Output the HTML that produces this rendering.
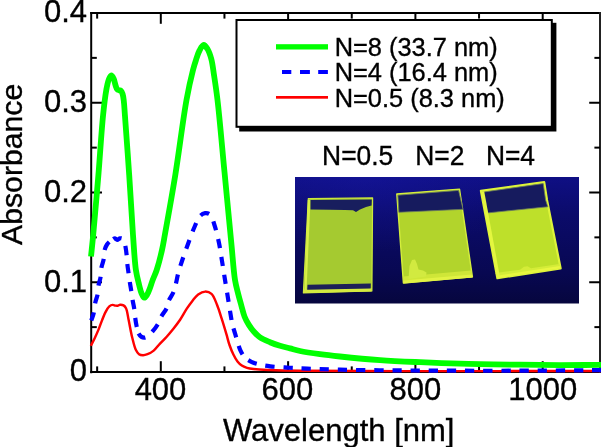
<!DOCTYPE html>
<html><head><meta charset="utf-8"><style>
html,body{margin:0;padding:0;background:#fff;width:601px;height:447px;overflow:hidden}
svg{display:block}
text{font-family:'Liberation Sans', Arial, Helvetica, sans-serif;fill:#000;stroke:#000;stroke-width:0.35px}
</style></head><body>
<svg width="601" height="447" viewBox="0 0 601 447">
<defs>
<clipPath id="plot"><rect x="84" y="12" width="526" height="361"/></clipPath>
<linearGradient id="bg" x1="0" y1="0" x2="0" y2="1">
<stop offset="0" stop-color="#0f0f84"/><stop offset="0.3" stop-color="#0b0b6a"/><stop offset="0.75" stop-color="#080852"/><stop offset="1" stop-color="#06063e"/>
</linearGradient>
<radialGradient id="bgr" cx="0.25" cy="0" r="0.6">
<stop offset="0" stop-color="#1a1ab0" stop-opacity="0.35"/><stop offset="1" stop-color="#1a1ab0" stop-opacity="0"/>
</radialGradient>
</defs>
<rect width="601" height="447" fill="#fff"/>
<!-- frame -->
<g stroke="#000" stroke-width="2" fill="none">
<rect x="91.2" y="13" width="408.1" height="359.2" style="display:none"/>
<line x1="91.2" y1="12" x2="91.2" y2="373.2"/>
<line x1="90.2" y1="13" x2="601" y2="13"/>
<line x1="90.2" y1="372" x2="601" y2="372"/>
<line x1="600" y1="12" x2="600" y2="373" stroke="#222"/>
<line x1="97.15" y1="372.00" x2="97.15" y2="366.40"/><line x1="97.15" y1="13.00" x2="97.15" y2="18.60"/><line x1="160.80" y1="372.00" x2="160.80" y2="361.20"/><line x1="160.80" y1="13.00" x2="160.80" y2="23.80"/><line x1="224.45" y1="372.00" x2="224.45" y2="366.40"/><line x1="224.45" y1="13.00" x2="224.45" y2="18.60"/><line x1="288.10" y1="372.00" x2="288.10" y2="361.20"/><line x1="288.10" y1="13.00" x2="288.10" y2="23.80"/><line x1="351.75" y1="372.00" x2="351.75" y2="366.40"/><line x1="351.75" y1="13.00" x2="351.75" y2="18.60"/><line x1="415.40" y1="372.00" x2="415.40" y2="361.20"/><line x1="415.40" y1="13.00" x2="415.40" y2="23.80"/><line x1="479.05" y1="372.00" x2="479.05" y2="366.40"/><line x1="479.05" y1="13.00" x2="479.05" y2="18.60"/><line x1="542.70" y1="372.00" x2="542.70" y2="361.20"/><line x1="542.70" y1="13.00" x2="542.70" y2="23.80"/><line x1="91.20" y1="327.12" x2="96.80" y2="327.12"/><line x1="600.00" y1="327.12" x2="594.40" y2="327.12"/><line x1="91.20" y1="282.25" x2="102.00" y2="282.25"/><line x1="600.00" y1="282.25" x2="589.20" y2="282.25"/><line x1="91.20" y1="237.37" x2="96.80" y2="237.37"/><line x1="600.00" y1="237.37" x2="594.40" y2="237.37"/><line x1="91.20" y1="192.50" x2="102.00" y2="192.50"/><line x1="600.00" y1="192.50" x2="589.20" y2="192.50"/><line x1="91.20" y1="147.62" x2="96.80" y2="147.62"/><line x1="600.00" y1="147.62" x2="594.40" y2="147.62"/><line x1="91.20" y1="102.75" x2="102.00" y2="102.75"/><line x1="600.00" y1="102.75" x2="589.20" y2="102.75"/><line x1="91.20" y1="57.87" x2="96.80" y2="57.87"/><line x1="600.00" y1="57.87" x2="594.40" y2="57.87"/>
</g>
<!-- tick labels -->
<g font-size="31" text-anchor="end">
<text x="87" y="22.25">0.4</text>
<text x="87" y="112">0.3</text>
<text x="87" y="201.75">0.2</text>
<text x="87" y="291.5">0.1</text>
<text x="87" y="381.25">0</text>
</g>
<g font-size="31" text-anchor="middle">
<text x="160.5" y="400">400</text>
<text x="287.3" y="400">600</text>
<text x="415.4" y="400">800</text>
<text x="542.7" y="400">1000</text>
</g>
<text x="223" y="441" font-size="31">Wavelength [nm]</text>
<text transform="translate(22.3,244.9) rotate(-90)" font-size="30.2">Absorbance</text>
<!-- curves -->
<g clip-path="url(#plot)" fill="none" stroke-linejoin="round">
<path d="M90.80,345.80 C92.10,343.27 93.42,340.88 94.70,338.20 C96.09,335.28 97.55,331.97 98.80,328.90 C100.01,325.94 100.96,322.95 102.10,320.10 C103.20,317.36 104.21,314.49 105.50,312.10 C106.64,309.98 107.88,307.60 109.30,306.40 C110.35,305.52 111.61,304.99 112.70,304.90 C113.66,304.82 114.63,305.47 115.50,305.60 C116.24,305.71 116.88,305.82 117.60,305.70 C118.43,305.57 119.27,304.77 120.20,304.70 C121.22,304.62 122.55,304.85 123.50,305.40 C124.50,305.98 125.29,306.82 126.00,308.20 C127.26,310.65 127.69,315.52 128.60,319.80 C129.73,325.07 130.88,332.16 132.20,337.50 C133.31,342.00 134.34,346.82 135.80,349.80 C136.75,351.74 137.68,353.31 139.00,354.20 C140.14,354.97 141.63,355.18 143.00,355.20 C144.45,355.22 145.93,354.81 147.50,354.20 C149.46,353.44 151.74,352.19 153.70,350.60 C155.94,348.78 157.85,345.90 160.00,343.60 C162.18,341.27 164.51,339.12 166.70,336.70 C168.98,334.19 171.21,331.56 173.40,328.80 C175.68,325.93 177.94,323.01 180.10,319.80 C182.42,316.35 184.60,312.04 186.80,308.70 C188.69,305.83 190.45,303.33 192.40,300.90 C194.26,298.58 195.97,295.96 198.20,294.40 C200.28,292.95 202.92,291.65 205.20,291.60 C207.35,291.55 209.72,292.24 211.50,293.80 C213.91,295.91 215.36,300.78 217.00,304.70 C218.80,309.02 220.17,313.90 221.70,318.70 C223.30,323.72 225.01,329.49 226.40,334.20 C227.56,338.12 228.30,341.55 229.50,345.00 C230.65,348.30 231.97,351.62 233.40,354.50 C234.67,357.06 235.97,359.56 237.50,361.50 C238.81,363.16 240.19,364.54 241.80,365.60 C243.37,366.63 245.13,367.24 247.00,367.80 C249.04,368.41 250.89,368.67 253.60,369.00 C257.89,369.52 263.93,369.73 270.30,370.00 C278.78,370.35 287.18,370.52 300.00,370.70 C323.51,371.02 366.67,371.03 400.00,371.10 C433.33,371.17 466.42,371.13 500.00,371.10 C534.08,371.07 568.67,370.97 603.00,370.90" stroke="#ff0000" stroke-width="2.45"/>
<path d="M91.30,320.50 C92.07,318.17 92.97,316.12 93.60,313.50 C94.37,310.27 94.57,305.82 95.30,302.50 C95.92,299.68 96.96,297.55 97.50,294.80 C98.10,291.75 98.05,288.03 98.60,285.00 C99.09,282.32 100.04,280.19 100.50,277.50 C101.02,274.47 100.84,270.79 101.40,267.70 C101.91,264.85 103.07,262.44 103.60,259.60 C104.17,256.56 103.89,252.71 104.60,250.00 C105.16,247.86 106.00,246.02 107.00,244.50 C107.85,243.20 108.99,242.17 110.00,241.30" stroke="#0000ff" stroke-width="4.2" stroke-dasharray="9.3 8.85" stroke-dashoffset="0.65"/>
<path d="M110.00,241.30 C110.86,240.56 111.73,240.01 112.60,239.50 C113.40,239.03 114.23,238.25 115.00,238.30 C115.77,238.35 116.41,239.76 117.20,239.80 C118.06,239.85 119.07,238.44 120.00,238.30 C120.83,238.18 121.81,238.28 122.50,238.80 C123.38,239.46 123.90,241.15 124.40,242.50 C124.96,243.99 125.26,245.59 125.60,247.40 C126.02,249.60 126.31,252.16 126.60,254.80 C126.93,257.83 127.06,261.49 127.40,264.60 C127.71,267.43 128.12,269.91 128.50,272.70 C128.91,275.69 129.33,278.93 129.80,282.00 C130.26,285.03 130.84,287.98 131.30,291.00 C131.77,294.05 132.10,297.22 132.60,300.20 C133.07,303.04 133.77,305.65 134.20,308.50 C134.65,311.50 134.79,314.79 135.20,317.80 C135.59,320.65 136.01,323.43 136.60,326.10 C137.16,328.65 137.59,331.59 138.60,333.50" stroke="#0000ff" stroke-width="4.2" stroke-dasharray="9.3 8.85" stroke-dashoffset="14.25"/>
<path d="M138.60,333.50 C139.37,334.96 140.40,336.23 141.50,336.90 C142.41,337.45 143.47,337.68 144.50,337.60 C145.63,337.51 146.88,336.94 148.00,336.20 C149.34,335.32 150.45,333.95 151.80,332.40 C153.62,330.29 156.12,327.20 157.70,324.50 C159.16,322.02 159.71,319.50 161.10,316.90 C162.69,313.92 165.65,310.62 166.90,307.70 C167.90,305.37 167.68,303.35 168.60,301.00 C169.73,298.11 172.31,294.99 173.60,291.80 C174.87,288.65 175.54,285.11 176.30,282.00 C176.98,279.21 177.23,276.97 178.00,274.00 C178.99,270.17 180.48,265.61 182.00,261.00 C183.75,255.70 185.92,249.65 188.00,244.00 C190.09,238.32 192.30,232.00 194.50,227.00 C196.31,222.89 197.81,218.30 200.00,216.00 C201.50,214.43 203.29,213.42 205.00,213.20 C206.63,212.99 208.59,213.28 210.00,214.50 C212.14,216.35 213.22,221.35 214.60,225.50 C216.30,230.60 217.77,237.10 219.00,243.00 C220.24,248.93 221.03,255.03 222.00,261.00 C222.96,266.90 223.85,272.73 224.80,278.60 C225.75,284.49 226.75,290.41 227.70,296.30 C228.65,302.17 229.62,308.71 230.50,313.90 C231.20,318.03 231.67,321.56 232.50,325.00 C233.24,328.07 234.24,330.75 235.10,333.60 C235.94,336.42 236.72,339.22 237.60,342.00 C238.48,344.78 239.16,347.70 240.40,350.30 C241.63,352.87 243.06,355.52 245.00,357.50" stroke="#0000ff" stroke-width="4.2" stroke-dasharray="9.3 8.85" stroke-dashoffset="0.8"/>
<path d="M245.00,357.50 C246.91,359.45 249.42,360.92 251.90,362.10 C254.41,363.29 257.11,363.92 260.00,364.60 C263.20,365.36 266.44,365.83 270.30,366.30 C275.21,366.89 281.25,367.23 287.10,367.60 C293.50,368.01 299.68,368.29 307.20,368.60 C316.80,369.00 327.43,369.42 340.00,369.70 C357.00,370.08 380.00,370.23 400.00,370.40 C420.00,370.57 440.00,370.65 460.00,370.70 C480.00,370.75 500.91,370.76 520.00,370.70 C537.43,370.65 555.06,370.51 570.00,370.40 C582.14,370.31 592.00,370.20 603.00,370.10" stroke="#0000ff" stroke-width="4.2" stroke-dasharray="9.3 8.85" stroke-dashoffset="-4.2"/>
<path d="M91.00,256.50 C91.70,249.67 92.28,244.66 93.10,236.00 C94.51,221.08 96.73,195.25 98.40,175.00 C100.06,154.92 101.48,130.68 103.10,115.00 C104.15,104.86 105.11,96.53 106.30,90.00 C107.08,85.73 107.72,82.13 108.80,79.50 C109.52,77.75 110.46,75.44 111.30,75.40 C112.06,75.37 112.95,77.19 113.60,78.50 C114.49,80.30 114.91,83.54 115.60,85.50 C116.12,86.98 116.45,88.50 117.20,89.30 C117.75,89.89 118.55,90.04 119.20,90.30 C119.78,90.53 120.40,90.39 120.90,90.80 C121.61,91.38 122.15,92.68 122.60,94.00 C123.23,95.84 123.46,98.26 123.80,101.00 C124.28,104.86 124.43,108.71 124.90,115.00 C125.88,128.03 127.85,155.00 129.20,175.00 C130.55,195.00 131.73,217.68 133.00,235.00 C133.97,248.23 134.57,260.99 135.90,270.00 C136.75,275.75 137.85,279.80 138.90,284.00 C139.77,287.49 140.49,291.03 141.60,293.50 C142.39,295.25 143.33,297.62 144.30,297.70 C145.20,297.77 146.34,295.84 147.20,294.50 C148.30,292.78 149.12,290.30 150.00,288.00 C150.96,285.49 151.67,282.80 152.70,280.00 C153.87,276.84 155.39,273.95 156.70,270.00 C158.51,264.52 160.57,256.32 162.00,250.00 C163.27,244.39 163.73,241.02 165.00,234.00 C167.44,220.54 171.92,195.87 175.30,175.00 C179.10,151.52 182.97,119.33 186.50,100.00 C188.75,87.70 191.12,77.29 193.00,70.00 C194.10,65.75 194.91,63.27 196.00,60.00 C197.08,56.78 198.05,53.15 199.50,50.50 C200.70,48.31 202.29,45.08 203.70,45.00 C204.96,44.93 206.38,47.22 207.50,49.00 C209.06,51.47 210.27,55.22 211.30,59.00 C212.56,63.66 213.08,69.07 214.00,75.00 C215.14,82.40 216.25,89.50 217.50,100.00 C219.61,117.78 222.17,147.92 224.50,172.00 C226.84,196.25 229.55,225.09 231.50,245.00 C232.85,258.79 233.53,271.00 235.00,280.00 C235.94,285.75 237.10,289.63 238.20,294.00 C239.18,297.90 240.15,301.28 241.20,305.00 C242.28,308.84 243.22,313.24 244.60,316.70 C245.78,319.66 247.14,322.09 248.70,324.60 C250.27,327.12 252.07,329.63 254.00,331.80 C255.85,333.88 257.60,335.76 260.00,337.40 C262.79,339.31 266.63,340.79 270.00,342.20 C273.30,343.58 276.64,344.76 280.00,345.80 C283.31,346.82 286.67,347.53 290.00,348.40 C293.33,349.27 296.07,350.18 300.00,351.00 C305.50,352.15 313.32,353.28 320.00,354.20 C326.66,355.11 332.18,355.70 340.00,356.50 C351.04,357.63 366.66,359.15 380.00,360.10 C393.32,361.05 406.66,361.60 420.00,362.20 C433.33,362.80 445.32,363.30 460.00,363.70 C477.98,364.19 502.02,364.46 520.00,364.70 C534.68,364.90 548.23,365.06 560.00,365.10 C569.31,365.13 577.35,365.06 585.00,365.00 C591.49,364.95 597.00,364.87 603.00,364.80" stroke="#00ff00" stroke-width="5.8"/>
</g>
<!-- legend -->
<rect x="239.2" y="22.8" width="317.2" height="108.7" fill="#000"/>
<rect x="236.5" y="20" width="315.3" height="106.8" fill="#fff" stroke="#000" stroke-width="2"/>
<rect x="276" y="44.2" width="52" height="5.3" fill="#00ff00"/>
<rect x="282" y="70" width="9.3" height="4" fill="#0000ff"/>
<rect x="300" y="70" width="9.9" height="4" fill="#0000ff"/>
<rect x="318.2" y="70" width="9.7" height="4" fill="#0000ff"/>
<rect x="276" y="96" width="52" height="2.7" fill="#ff0000"/>
<g font-size="25.4">
<text x="334.7" y="55.6">N=8 (33.7 nm)</text>
<text x="334.7" y="81.2">N=4 (16.4 nm)</text>
<text x="334.7" y="106.7">N=0.5 (8.3 nm)</text>
</g>
<!-- photo -->
<g font-size="26.4">
<text transform="translate(322.1,164.9) scale(1,1.055)">N=0.5</text>
<text transform="translate(415.3,164.7) scale(1,1.055)">N=2</text>
<text transform="translate(485.9,164.7) scale(1,1.055)">N=4</text>
</g>
<rect x="295" y="177" width="284" height="126.5" fill="url(#bg)"/>
<rect x="295" y="177" width="284" height="126.5" fill="url(#bgr)"/>
<g stroke-linejoin="round">
<polygon points="308.3,198.6 372.6,197.9 371.9,291 303.4,292.9" fill="#a5ca30" stroke="#cce83c" stroke-width="1.2"/>
<polygon points="304.5,291 307.8,200 310.5,200 306.5,291" fill="#d8ee46"/>
<polygon points="304,289.5 371.6,288 371.7,291.5 303.6,293" fill="#d4ea40"/>
<polygon points="310.5,200 371.8,199.4 371.6,205.5 366,207 360,209.5 356,212 353,210.2 345,210 330,209.8 310.5,209.5" fill="#181e5e"/>
<polygon points="307.5,284.8 370.8,283.5 370.7,288.6 307.2,289.8" fill="#1c2058"/>
<polygon points="396.8,194 459.5,189.1 472.4,276.9 403.4,283" fill="#b2d42c" stroke="#d4ee3c" stroke-width="1.4"/>
<polygon points="397.9,195.2 458.6,190.4 463.0,209.3 398.9,212.3" fill="#161b5e" stroke="#6a7a60" stroke-width="0.8"/>
<polygon points="403.4,276.5 471.4,270.5 472.4,276.9 403.4,283" fill="#cfe638"/>
<polygon points="403.2,280.6 471.9,274.6 472.6,277.6 403.6,283.6" fill="#e2f244"/>
<polygon points="408.5,279 409.5,266 412,260 415,259.5 417,264 418.5,269.5 423,270.5 426.5,272.5 426,276.5" fill="#d2ea40"/>
<polygon points="480.9,190.8 544.2,182.2 547,200 560.6,268.3 497.4,278.2" fill="#bee02a" stroke="#def43a" stroke-width="2.2"/>
<polygon points="482.3,192.2 543.2,183.6 545.6,200 547.8,206.8 487.5,212.9" fill="#161b5e" stroke="#6a7a60" stroke-width="0.8"/>
<polygon points="495.5,273 520,269.8 524,266.8 527.5,266.2 531,268.3 559.3,264 560.6,268.3 497.4,278.2" fill="#d4ec38"/>
<polygon points="496.6,275.8 559.8,265.9 560.6,268.3 497.4,278.2" fill="#e8f640"/>
<polygon points="481.2,191.5 484.2,191.2 500,277.5 497,278" fill="#e4f640"/>
</g>
</svg>
</body></html>
